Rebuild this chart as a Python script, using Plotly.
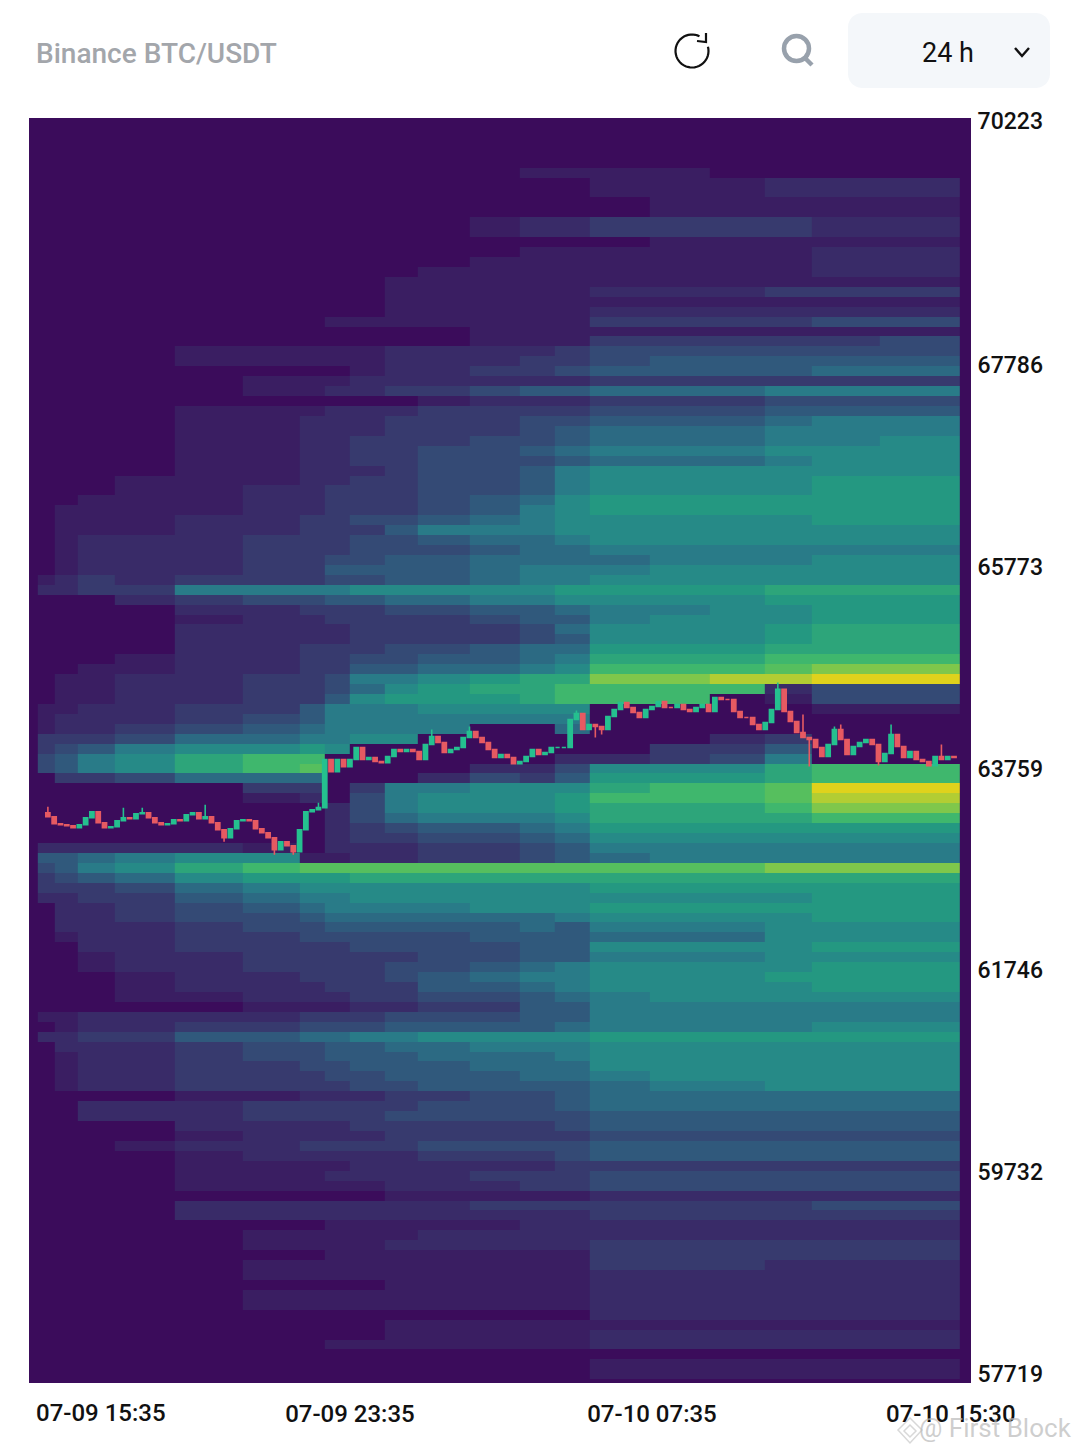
import math
import pandas as pd
import plotly.graph_objects as go

# ---------- data ----------
title_text = "Binance BTC/USDT"
range_text = "24 h"
price_ticks = [70223, 67786, 65773, 63759, 61746, 59732, 57719]
time_ticks = ["2024-07-09 23:35", "2024-07-10 07:35", "2024-07-10 15:30"]
time_labels = ["07-09 23:35", "07-10 07:35", "07-10 15:30"]
first_tick = "2024-07-09 15:35"
first_label = "07-09 15:35"

time_edges = ["2024-07-09 15:19", "2024-07-09 15:46", "2024-07-09 16:23", "2024-07-09 17:21", "2024-07-09 18:57",
              "2024-07-09 20:45", "2024-07-09 22:15", "2024-07-09 22:55", "2024-07-09 23:35", "2024-07-10 00:31",
              "2024-07-10 01:23", "2024-07-10 02:46", "2024-07-10 04:05", "2024-07-10 05:01", "2024-07-10 05:57",
              "2024-07-10 07:32", "2024-07-10 09:07", "2024-07-10 10:34", "2024-07-10 11:49", "2024-07-10 13:37",
              "2024-07-10 15:44"]

price_top = 70252
price_step = 99.1
axis_bottom = 57629

heat_top = [
[0,0,0,0,0,0,0,0,0,0,0,0,0,0,0,0,0,0,0,0],
[0,0,0,0,0,0,0,0,0,0,0,0,0,0,0,0,0,0,0,0],
[0,0,0,0,0,0,0,0,0,0,0,0,0,0,0,0,0,0,0,0],
[0,0,0,0,0,0,0,0,0,0,0,0,0,0,0,0,0,0,0,0],
[0,0,0,0,0,0,0,0,0,0,0,0,0,0,0,0,0,0,0,0],
[0,0,0,0,0,0,0,0,0,0,0,0,1,1,1,1,0,0,0,0],
[0,0,0,0,0,0,0,0,0,0,0,0,0,0,1,1,1,2,2,2],
[0,0,0,0,0,0,0,0,0,0,0,0,0,0,1,1,1,2,2,2],
[0,0,0,0,0,0,0,0,0,0,0,0,0,0,0,1,1,1,1,1],
[0,0,0,0,0,0,0,0,0,0,0,0,0,0,0,1,1,1,1,1],
[0,0,0,0,0,0,0,0,0,0,0,1,2,2,3,3,3,3,2,2],
[0,0,0,0,0,0,0,0,0,0,0,1,2,2,3,3,3,3,2,2],
[0,0,0,0,0,0,0,0,0,0,0,0,0,0,0,1,1,1,1,1],
[0,0,0,0,0,0,0,0,0,0,0,0,1,1,1,1,1,1,2,2],
[0,0,0,0,0,0,0,0,0,0,0,1,1,1,1,1,1,1,2,2],
[0,0,0,0,0,0,0,0,0,0,1,1,1,1,1,1,1,1,2,2],
[0,0,0,0,0,0,0,0,0,1,1,1,1,1,1,1,1,1,1,1],
[0,0,0,0,0,0,0,0,0,1,1,1,1,1,2,2,2,3,3,3],
[0,0,0,0,0,0,0,0,0,1,1,1,1,1,1,1,1,1,1,1],
[0,0,0,0,0,0,0,0,0,1,1,1,1,1,2,2,2,2,2,2],
[0,0,0,0,0,0,0,1,1,1,1,1,1,1,3,3,3,3,4,4],
[0,0,0,0,0,0,0,0,0,0,0,1,1,1,1,1,1,1,1,1],
[0,0,0,0,0,0,0,0,0,0,0,1,1,1,3,3,3,3,3,4],
[0,0,0,0,1,1,1,1,1,2,2,2,2,3,4,4,4,4,4,4],
[0,0,0,0,1,1,1,1,1,2,2,2,3,3,4,5,5,5,5,5],
[0,0,0,0,0,0,0,0,1,2,2,3,3,4,5,5,5,5,6,6],
[0,0,0,0,0,1,1,1,2,2,2,2,2,2,3,3,3,3,3,3],
[0,0,0,0,0,1,1,2,2,3,3,4,5,5,6,6,6,7,7,7],
[0,0,0,0,0,0,0,0,0,0,1,2,2,2,3,3,3,4,4,4],
[0,0,0,0,1,1,1,2,2,2,3,3,3,3,4,4,4,5,5,5],
[0,0,0,0,1,1,2,2,2,3,3,3,4,4,5,5,5,6,7,7],
[0,0,0,0,1,1,2,2,2,3,3,3,4,5,6,6,6,7,7,7],
[0,0,0,0,1,1,2,2,3,3,3,4,4,5,6,6,6,7,7,8],
[0,0,0,0,1,1,2,2,3,3,4,4,5,6,7,7,7,8,8,8],
[0,0,0,0,1,1,2,2,3,3,4,4,4,5,6,6,6,7,8,8],
[0,0,0,0,1,1,2,2,2,3,4,4,5,7,8,8,8,8,8,8],
[0,0,0,1,1,1,2,2,3,3,4,4,5,7,8,8,8,8,9,9],
[0,0,0,1,1,2,2,3,3,3,4,4,5,7,8,8,8,8,9,9],
[0,0,1,1,1,2,2,3,3,3,4,5,6,8,9,9,9,9,9,9],
[0,1,1,1,1,2,2,3,3,3,4,5,7,8,9,9,9,9,9,9],
[0,1,1,1,2,2,3,3,4,4,5,6,7,8,8,8,8,8,9,9],
[0,1,1,1,2,2,3,3,3,5,7,7,7,8,8,8,8,8,8,8],
[0,1,2,2,2,3,3,3,4,4,5,6,6,7,8,8,8,8,8,8],
[0,1,2,2,2,3,3,3,4,4,4,5,6,6,7,7,7,7,7,7],
[0,1,2,2,2,3,3,4,4,5,5,6,6,6,6,7,7,7,8,8],
[0,1,2,2,2,3,3,5,5,5,5,6,7,7,7,8,8,8,8,8],
[1,2,3,2,3,3,3,4,4,5,5,6,7,7,8,8,8,8,8,8],
[2,2,3,3,7,7,7,7,8,8,8,8,8,9,9,9,9,10,10,10],
[0,0,0,2,3,4,4,5,5,6,6,7,7,8,8,8,8,9,9,9],
[0,0,0,0,2,2,3,3,3,4,4,5,5,6,7,7,8,8,9,9],
[0,0,0,0,1,2,2,3,3,3,3,4,5,5,7,8,8,8,9,9],
[0,0,0,0,2,2,2,2,3,3,3,3,4,6,8,8,8,9,10,10],
]

heat_mid = [
[0,0,0,0,2,2,2,2,3,3,3,3,4,5,8,8,8,9,10,10],
[0,0,0,0,2,2,3,3,3,4,4,5,6,6,9,9,9,10,10,10],
[0,0,0,1,2,2,3,3,4,4,5,5,6,7,10,10,10,11,11,11],
[0,0,1,1,2,2,3,3,5,5,6,6,7,8,11,11,11,12,13,13],
[0,1,1,2,2,3,3,4,7,7,8,9,10,10,13,13,14,14,15,15],
[0,1,1,2,2,3,3,4,6,8,9,10,10,11,11,11,11,2,4,4],
[0,1,1,2,2,3,3,5,8,9,9,9,10,11,11,11,0,1,4,4],
[1,1,2,2,3,3,5,7,7,7,8,8,8,8,0,0,0,0,1,1],
[1,2,2,2,3,4,5,7,7,7,7,7,7,7,0,0,0,0,0,0],
[1,2,2,3,4,5,6,7,7,7,7,0,0,6,0,0,0,0,0,0],
[3,3,3,4,6,6,7,7,8,8,0,0,0,0,0,0,2,3,0,0],
[3,4,5,7,8,8,9,8,0,0,0,0,0,0,0,3,3,5,0,0],
[4,5,7,8,10,11,11,0,0,0,0,0,0,2,2,3,4,7,0,0],
[4,5,7,8,10,11,12,0,0,0,0,2,2,4,8,8,8,10,11,11],
[0,3,3,4,6,6,6,0,0,0,2,4,3,5,9,9,9,10,11,11],
[0,0,0,0,0,3,3,0,3,7,7,8,8,8,10,11,11,12,15,15],
[0,0,0,0,0,1,2,0,4,7,8,8,8,9,11,11,11,12,14,14],
[0,0,0,0,0,0,0,2,4,7,8,8,8,9,10,10,10,11,13,13],
[0,0,0,0,0,0,0,2,4,6,7,7,7,8,10,10,10,10,11,11],
[0,0,0,0,0,0,0,2,3,4,5,5,6,7,9,9,9,9,9,9],
[0,0,0,0,0,0,0,2,3,3,4,4,5,6,8,8,8,8,8,8],
[2,2,2,2,2,1,0,2,2,2,3,3,4,5,7,7,7,7,7,7],
[5,5,6,7,8,8,1,1,2,2,3,3,4,5,6,7,7,7,7,7],
[4,5,7,8,10,11,12,12,12,12,12,12,12,12,12,12,12,13,13,13],
[3,4,5,6,8,9,9,9,10,10,10,10,10,10,10,10,10,10,10,10],
[3,3,3,4,6,7,8,8,8,8,8,8,8,8,9,9,9,9,9,9],
[2,2,3,3,5,6,7,7,8,8,8,8,8,8,8,8,8,8,9,9],
]

heat_bottom = [
[0,2,2,3,4,5,6,7,7,7,7,8,8,8,9,9,9,9,9,9],
[0,2,2,3,4,4,5,6,6,6,6,6,6,7,8,8,8,8,9,9],
[0,2,2,2,3,4,4,5,5,5,5,5,6,5,7,7,7,8,8,8],
[0,1,2,2,3,3,4,4,4,4,4,5,5,5,6,6,6,8,8,8],
[0,0,2,2,3,3,3,3,4,4,4,4,5,5,8,8,8,8,9,9],
[0,0,1,2,2,3,3,3,3,3,4,4,5,5,7,7,7,8,8,8],
[0,0,1,2,2,3,3,3,3,4,4,5,6,7,8,8,8,8,9,9],
[0,0,0,1,2,2,3,3,3,4,5,6,7,7,8,8,8,9,9,9],
[0,0,0,1,2,2,2,3,3,3,5,5,6,7,8,8,8,8,9,9],
[0,0,0,1,1,2,2,2,3,3,4,4,5,6,7,8,8,8,8,8],
[0,0,0,0,0,1,1,1,2,2,3,3,5,5,7,7,7,7,7,7],
[1,1,2,2,2,2,3,3,3,4,4,4,5,5,7,7,7,7,7,7],
[0,1,2,2,3,3,4,4,4,5,5,5,5,6,7,7,7,7,8,8],
[2,2,3,3,5,5,6,6,7,7,8,8,8,8,9,9,9,9,9,9],
[0,2,2,2,3,4,4,5,5,6,6,7,7,7,8,8,8,8,8,8],
[0,1,2,2,3,4,4,5,5,5,6,6,6,7,8,8,8,8,8,8],
[0,1,2,2,3,3,4,4,5,5,5,6,6,6,8,8,8,8,8,8],
[0,1,2,2,3,3,3,4,4,5,5,5,6,6,7,8,8,8,8,8],
[0,1,2,2,3,3,3,3,4,4,5,5,5,5,6,7,7,8,8,8],
[0,0,0,0,1,1,2,2,2,3,3,4,4,5,6,6,6,6,6,6],
[0,0,2,2,2,3,3,3,3,3,4,4,4,5,6,6,6,6,6,6],
[0,0,2,2,2,3,3,3,3,4,4,4,4,4,5,5,5,5,5,5],
[0,0,0,0,2,2,2,2,3,3,3,3,3,4,5,5,5,5,5,5],
[0,0,0,0,1,2,2,2,2,3,3,3,3,3,4,4,4,4,4,4],
[0,0,0,1,2,2,3,3,3,3,4,4,4,4,5,5,5,5,5,5],
[0,0,0,0,1,2,2,2,2,2,3,3,3,4,5,5,5,5,5,5],
[0,0,0,0,1,1,1,1,2,2,2,2,2,3,3,3,3,3,3,3],
[0,0,0,0,1,1,1,2,2,2,2,3,3,3,4,4,4,4,4,4],
[0,0,0,0,1,1,1,1,1,2,2,2,3,3,4,4,4,4,4,4],
[0,0,0,0,0,0,0,0,0,1,1,1,1,1,2,2,2,2,2,2],
[0,0,0,0,2,2,2,2,2,2,2,3,3,3,3,3,3,3,4,4],
[0,0,0,0,2,2,2,2,2,2,2,2,2,2,3,3,3,3,3,3],
[0,0,0,0,0,0,0,1,1,1,1,1,2,2,2,2,2,2,2,2],
[0,0,0,0,0,1,1,1,1,1,2,2,2,2,2,2,2,2,2,2],
[0,0,0,0,0,1,1,1,1,2,2,2,2,2,3,3,3,3,3,3],
[0,0,0,0,0,0,0,1,1,1,1,1,1,1,3,3,3,3,3,3],
[0,0,0,0,0,1,1,1,1,1,1,1,1,1,3,3,3,2,2,2],
[0,0,0,0,0,1,1,1,1,1,1,1,1,1,2,2,2,2,2,2],
[0,0,0,0,0,0,0,0,0,1,1,1,1,1,2,2,2,2,2,2],
[0,0,0,0,0,1,1,1,1,1,1,1,1,1,2,2,2,2,2,2],
[0,0,0,0,0,1,1,1,1,1,1,1,1,1,2,2,2,2,2,2],
[0,0,0,0,0,0,0,0,0,0,0,0,0,0,2,2,2,2,2,2],
[0,0,0,0,0,0,0,0,0,1,1,1,1,1,1,1,1,1,1,1],
[0,0,0,0,0,0,0,0,0,1,1,1,1,1,2,2,2,2,2,2],
[0,0,0,0,0,0,0,1,1,1,1,1,1,1,2,2,2,2,2,2],
[0,0,0,0,0,0,0,0,0,0,0,0,0,0,0,0,0,0,0,0],
[0,0,0,0,0,0,0,0,0,0,0,0,0,0,1,1,1,1,1,1],
[0,0,0,0,0,0,0,0,0,0,0,0,0,0,1,1,1,1,1,1],
]

candle_start = "2024-07-09 15:35"
first_open = 63320
closes = [63280,63210,63200,63190,63170,63200,63270,63330,63220,63170,63180,63240,63270,63260,63310,63320,
          63270,63220,63200,63210,63250,63240,63300,63320,63260,63280,63220,63150,63070,63160,63240,63250,
          63240,63160,63120,63070,62950,63030,62990,62930,63150,63330,63350,63370,63850,63730,63850,63780,
          63850,63970,63850,63870,63830,63820,63880,63950,63930,63950,63930,63850,64000,64080,64020,63920,
          63950,63970,64070,64130,64070,64020,63950,63870,63900,63870,63810,63830,63880,63950,63900,63920,
          63970,63970,63970,64250,64310,64150,64200,64180,64150,64280,64350,64420,64370,64320,64270,64350,
          64380,64430,64370,64370,64400,64350,64330,64370,64400,64330,64470,64450,64450,64330,64270,64270,
          64200,64150,64220,64350,64550,64330,64230,64120,64070,64050,63970,63880,64000,64150,64050,63900,
          63980,64020,64050,64000,63830,63910,64100,63980,63870,63930,63850,63830,63790,63880,63850,63880,63870]
high_wicks = {0: 63380, 12: 63370, 15: 63370, 25: 63400, 43: 63420, 61: 64150, 67: 64180, 84: 64340,
              116: 64620, 120: 64300, 125: 64180, 126: 64200, 134: 64200, 142: 64000}
low_wicks = {28: 63030, 36: 62900, 39: 62900, 87: 64070, 88: 64100, 121: 63780, 132: 63790, 140: 63780}

# palette for the liquidity level shown by each heat cell
level_colors = ["#3b0c5b", "#3a1e62", "#392b68", "#373a6e", "#344a75", "#30597c", "#2c6a83", "#297b88",
                "#268a87", "#249881", "#2da57a", "#3fb76d", "#56bf5e", "#7fc74b", "#b2cd33", "#dfd21c"]
up_color = "#25c08f"
down_color = "#e65a62"

# ---------- figure ----------
heat = heat_top + heat_mid + heat_bottom
price_edges = [price_top - price_step * i for i in range(len(heat) + 1)]
times = pd.date_range(candle_start, periods=len(closes), freq="10min")
opens = [first_open] + closes[:-1]
highs = [high_wicks.get(i, max(o, c)) for i, (o, c) in enumerate(zip(opens, closes))]
lows = [low_wicks.get(i, min(o, c)) for i, (o, c) in enumerate(zip(opens, closes))]

W, H = 1080, 1453
L, R, T, B = 29, 971, 118, 1383
px = lambda x: (x - L) / (R - L)
py = lambda y: (B - y) / (B - T)

fig = go.Figure()
n = len(level_colors) - 1
fig.add_trace(go.Heatmap(
    x=time_edges, y=price_edges, z=heat, zmin=0, zmax=n, showscale=False, hoverinfo="skip",
    colorscale=[[i / n, c] for i, c in enumerate(level_colors)]))
fig.add_trace(go.Candlestick(
    x=times, open=opens, high=highs, low=lows, close=closes, whiskerwidth=0,
    increasing=dict(line=dict(color=up_color, width=1.6), fillcolor=up_color),
    decreasing=dict(line=dict(color=down_color, width=1.6), fillcolor=down_color)))

def poly(points, close=False):
    d = "M" + " L".join(f"{px(x):.5f},{py(y):.5f}" for x, y in points)
    return d + (" Z" if close else "")

def rounded(x0, y0, x1, y1, r):
    pts = []
    for cx, cy, a0 in [(x1 - r, y0 + r, -90), (x1 - r, y1 - r, 0), (x0 + r, y1 - r, 90), (x0 + r, y0 + r, 180)]:
        for a in range(a0, a0 + 91, 15):
            pts.append((cx + r * math.cos(math.radians(a)), cy + r * math.sin(math.radians(a))))
    return poly(pts, True)

arc = [(692 + 16.5 * math.cos(math.radians(a)), 51 + 16.5 * math.sin(math.radians(a))) for a in range(-15, 302, 8)]
diamond = [(910, 1418), (922, 1430), (910, 1443), (898, 1430)]
inner = [(910, 1425), (916, 1431), (910, 1437), (904, 1431)]
shapes = [
    dict(type="path", xref="paper", yref="paper", path=rounded(848, 13, 1050, 88, 14),
         line=dict(width=0), fillcolor="#f4f7fa", layer="below"),
    dict(type="path", xref="paper", yref="paper", path=poly(arc), line=dict(color="#111111", width=2.2)),
    dict(type="path", xref="paper", yref="paper", path=poly([(706, 33), (706, 42), (697, 41)]),
         line=dict(color="#111111", width=2.2)),
    dict(type="circle", xref="paper", yref="paper", x0=px(784), x1=px(809), y0=py(61), y1=py(36),
         line=dict(color="#98a1ac", width=4.5)),
    dict(type="path", xref="paper", yref="paper", path=poly([(804, 57), (812, 65)]),
         line=dict(color="#98a1ac", width=4.5)),
    dict(type="path", xref="paper", yref="paper", path=poly([(1015, 48), (1022, 56), (1029, 48)]),
         line=dict(color="#111111", width=2.4)),
    dict(type="path", xref="paper", yref="paper", path=poly(diamond, True),
         line=dict(color="rgba(190,190,190,0.6)", width=1.5)),
    dict(type="path", xref="paper", yref="paper", path=poly(inner, True),
         line=dict(color="rgba(190,190,190,0.6)", width=1.5)),
]
annotations = [
    dict(xref="paper", yref="paper", x=px(34), y=py(53), xanchor="left", yanchor="middle", showarrow=False,
         text=title_text, font=dict(family="Roboto", size=28, weight=500, color="#a3a6ab")),
    dict(xref="paper", yref="paper", x=px(948), y=py(53), xanchor="center", yanchor="middle", showarrow=False,
         text=range_text, font=dict(family="Roboto", size=27, color="#111111")),
    dict(x=first_tick, xref="x", xshift=-14, y=py(1413), yref="paper", xanchor="left", yanchor="middle",
         showarrow=False, text=first_label, font=dict(family="Roboto", size=24, weight=500, color="#111111")),
    dict(xref="paper", yref="paper", x=px(1074), y=py(1428), xanchor="right", yanchor="middle", showarrow=False,
         text="@ First Block", font=dict(family="Roboto", size=26, color="rgba(185,185,185,0.7)")),
]
fig.update_layout(
    width=W, height=H, autosize=False, margin=dict(l=L, r=W - R, t=T, b=H - B),
    paper_bgcolor="#ffffff", plot_bgcolor=level_colors[0], showlegend=False, boxgap=0.05,
    shapes=shapes, annotations=annotations,
    xaxis=dict(type="date", range=["2024-07-09 15:05", "2024-07-10 16:02"], rangeslider=dict(visible=False),
               tickmode="array", tickvals=time_ticks, ticktext=time_labels, showgrid=False, zeroline=False,
               ticks="outside", ticklen=9, tickcolor="rgba(0,0,0,0)",
               tickfont=dict(family="Roboto", size=24, weight=500, color="#111111")),
    yaxis=dict(side="right", range=[axis_bottom, price_top], tickmode="array", tickvals=price_ticks,
               ticktext=[str(p) for p in price_ticks], showgrid=False, zeroline=False,
               ticks="outside", ticklen=1, tickcolor="rgba(0,0,0,0)",
               tickfont=dict(family="Roboto", size=23, weight=500, color="#111111")),
)
fig.write_html("out.html", config=dict(displayModeBar=False),
               post_script="document.body.style.margin='0';")
